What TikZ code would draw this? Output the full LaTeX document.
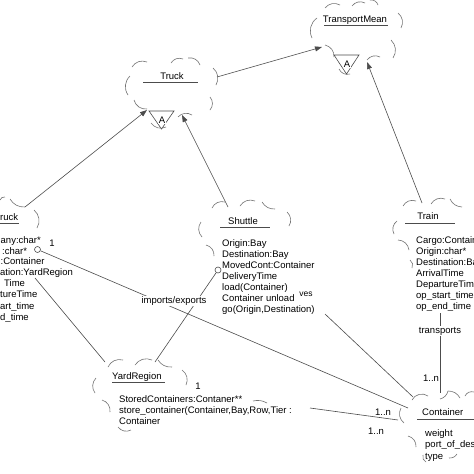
\documentclass[tikz,border=0pt]{standalone}
\usepackage{fontspec}
\setmainfont{Liberation Sans}
\usetikzlibrary{arrows.meta}
\begin{document}
\begin{tikzpicture}[x=1pt,y=-1pt,
  txt/.style={font=\fontsize{9.5}{11}\selectfont, inner sep=0pt, anchor=base west},
  cls/.style={font=\fontsize{9.5}{11}\selectfont, inner sep=0pt, anchor=base},
  lbl/.style={font=\fontsize{9.5}{11}\selectfont, inner sep=1pt, fill=white},
  conn/.style={draw=black!70, line width=0.6pt},
  inh/.style={conn, -{Triangle[length=7pt,width=5pt]}},
  cloudarc/.style={draw=black!55, line width=0.6pt},
  uline/.style={draw=black!70, line width=0.6pt},
  tri/.style={draw=black!70, line width=0.6pt},
  assoc/.style={circle, draw=black!70, line width=0.6pt, fill=white, minimum size=6pt, inner sep=0pt}]
\clip (0,0) rectangle (474,474);
\fill[white] (0,0) rectangle (474,474);

% ---------- TransportMean ----------
\node[cls] (tm) at (355,22.5) {TransportMean};
\draw[uline] (324,25.5) -- (388,25.5);
\draw[tri] (334,55) -- (359,55) -- (346.5,74) -- cycle;
\node[cls, fill=white, inner sep=0.5pt] (tmA) at (347,67.5) {A};
\draw[cloudarc] (312,38) to[bend left=40] (317,18);
\draw[cloudarc] (325,8) to[bend left=40] (340,5);
\draw[cloudarc] (352,6) to[bend left=40] (365,3);
\draw[cloudarc] (370,0) to[bend left=40] (378,5);
\draw[cloudarc] (398,13) to[bend left=40] (401,28);
\draw[cloudarc] (391,40) to[bend left=40] (393,58);
\draw[cloudarc] (380,57) to[bend right=40] (367,60);
\draw[cloudarc] (325,45) to[bend left=40] (334,57);
\draw[cloudarc] (350,74) to[bend left=40] (339,69);

% ---------- Truck (top) ----------
\node[cls] (tr) at (172,79.5) {Truck};
\draw[uline] (143,82) -- (198,82);
\draw[tri] (149,111) -- (174,111) -- (161.5,129) -- cycle;
\node[cls, fill=white, inner sep=0.5pt] (trA) at (162,123.5) {A};
\draw[cloudarc] (128,95) to[bend left=40] (130,76);
\draw[cloudarc] (132,67) to[bend left=40] (147,62);
\draw[cloudarc] (171,63) to[bend left=40] (183,59);
\draw[cloudarc] (188,58) to[bend left=40] (200,65);
\draw[cloudarc] (213,68) to[bend left=40] (216,85);
\draw[cloudarc] (210,97) to[bend left=40] (210,110);
\draw[cloudarc] (192,115) to[bend right=40] (178,117);
\draw[cloudarc] (147,109) to[bend left=40] (134,100);
\draw[cloudarc] (166,127) to[bend left=40] (151,123);

% ---------- Truck (left, cut) ----------
\node[txt] (lt0) at (0,220.5) {ruck};
\draw[uline] (0,223.5) -- (19,223.5);
\node[txt] (lt1) at (0.5,243.5) {any:char*};
\node[txt] (lt2) at (2,254.5) {:char*};
\node[txt] (lt3) at (0.5,264.5) {:Container};
\node[txt] (lt4) at (0,275.5) {ation:YardRegion};
\node[txt] (lt5) at (4,286.5) {Time};
\node[txt] (lt6) at (0,297.5) {tureTime};
\node[txt] (lt7) at (0,309.5) {art\_time};
\node[txt] (lt8) at (0,320.5) {d\_time};
\draw[cloudarc] (0,200) to[bend left=40] (5,197);
\draw[cloudarc] (10,199) to[bend right=30] (25,207);
\draw[cloudarc] (34,210) to[bend left=40] (37,228);

% ---------- Shuttle ----------
\node[cls] (sh) at (243,224.5) {Shuttle};
\draw[uline] (220,227) -- (270,227);
\node[txt] (sh1) at (222,246.5) {Origin:Bay};
\node[txt] (sh2) at (222,257.5) {Destination:Bay};
\node[txt] (sh3) at (222,268.5) {MovedCont:Container};
\node[txt] (sh4) at (222,279.5) {DeliveryTime};
\node[txt] (sh5) at (222,290.5) {load(Container)};
\node[txt] (sh6) at (222,301.5) {Container unload};
\node[txt] (sh7) at (222,312.5) {go(Origin,Destination)};
\draw[cloudarc] (212,208) to[bend left=40] (225,202);
\draw[cloudarc] (240,206) to[bend left=40] (255,201);
\draw[cloudarc] (262,202) to[bend right=30] (275,209);
\draw[cloudarc] (287,212) to[bend left=40] (289,226);
\draw[cloudarc] (202,237) to[bend left=40] (201,222);
\draw[cloudarc] (206,245) to[bend left=40] (214,256);

% ---------- Train ----------
\node[cls] (tn) at (428,219.5) {Train};
\draw[uline] (405,223) -- (455,223);
\node[txt] (tn1) at (416,243.5) {Cargo:Container};
\node[txt] (tn2) at (416,254.5) {Origin:char*};
\node[txt] (tn3) at (416,265.5) {Destination:Bay};
\node[txt] (tn4) at (416,276.5) {ArrivalTime};
\node[txt] (tn5) at (416,287.5) {DepartureTime};
\node[txt] (tn6) at (416,298.5) {op\_start\_time};
\node[txt] (tn7) at (416,309.5) {op\_end\_time};
\draw[cloudarc] (403,206) to[bend left=40] (416,201);
\draw[cloudarc] (431,204) to[bend left=40] (445,199);
\draw[cloudarc] (450,199) to[bend right=30] (462,207);
\draw[cloudarc] (394,234) to[bend left=40] (397,221);
\draw[cloudarc] (398,240) to[bend left=40] (409,250);
\draw[cloudarc] (410,260) to[bend left=40] (412,268);

% ---------- YardRegion ----------
\node[txt] (yr) at (112,379.5) {YardRegion};
\draw[uline] (112,382.5) -- (165,382.5);
\node[txt] (yr1) at (119,402.5) {StoredContainers:Contaner**};
\node[txt] (yr2) at (119,413.5) {store\_container(Container,Bay,Row,Tier :};
\node[txt] (yr3) at (119,424.5) {Container};
\draw[cloudarc] (108,367) to[bend left=40] (123,360);
\draw[cloudarc] (135,365) to[bend left=40] (152,360);
\draw[cloudarc] (158,360) to[bend right=30] (172,367);
\draw[cloudarc] (182,370) to[bend left=40] (186,385);
\draw[cloudarc] (95,393) to[bend left=40] (96,378);
\draw[cloudarc] (102,400) to[bend left=40] (110,412);
\draw[cloudarc] (131,430) to[bend left=40] (118,427);
\draw[cloudarc] (253,401) to[bend left=20] (267,403);

% ---------- Container ----------
\node[txt] (ct) at (422,415.5) {Container};
\draw[uline] (417,419) -- (474,419);
\node[txt] (ct1) at (425,436.5) {weight};
\node[txt] (ct2) at (425,447.5) {port\_of\_destination};
\node[txt] (ct3) at (425,459.5) {type};
\draw[cloudarc] (412,400) to[bend left=50] (428,396);
\draw[cloudarc] (440,399) to[bend right=30] (448,391);
\draw[cloudarc] (448,391) to[bend left=30] (460,398);
\draw[cloudarc] (465,396) to[bend left=40] (474,392);
\draw[cloudarc] (404,423) to[bend left=40] (401,408);
\draw[cloudarc] (408,436) to[bend left=40] (416,447);
\draw[cloudarc] (423,455) to[bend right=40] (426,462);
\draw[cloudarc] (449,458) to[bend right=30] (457,454);

% ---------- connector end points ----------
\coordinate (trR) at (217,77);
\coordinate (tmL) at (322,47);
\coordinate (ltT) at (25,207);
\coordinate (trAL) at (147,110);
\coordinate (shT) at (228,207);
\coordinate (trAR) at (182,115);
\coordinate (tnT) at (422,203);
\coordinate (tmAR) at (367,62);
\coordinate (ctL1) at (408,408);
\coordinate (ctL2) at (398,420);
\coordinate (ctTL) at (413,397);
\coordinate (ctT) at (440,393);
\coordinate (tnB) at (440,313);
\coordinate (ltB) at (35,278);
\coordinate (yrTL) at (105,362);
\coordinate (yrT) at (155,362);
\coordinate (yrR) at (310,408);
\coordinate (shBR) at (325,314);

% ---------- connectors ----------
\draw[inh] (trR) -- (tmL);
\draw[inh] (ltT) -- (trAL);
\draw[inh] (shT) -- (trAR);
\draw[inh] (tnT) -- (tmAR);

\node[assoc] (tc) at (37.5,249.5) {};
\node[assoc] (sc) at (218,270) {};
\draw[conn] (tc) -- (ctL1);
\draw[conn] (sc) -- (yrT);
\draw[conn] (ltB) -- (yrTL);
\draw[conn] (yrR) -- (ctL2);
\draw[conn] (shBR) -- (ctTL);
\draw[conn] (tnB) -- (ctT);

% ---------- labels ----------
\node[lbl] (ie) at (174,301) {imports/exports};
\node[lbl] (trl) at (440,331) {transports};
\node[lbl] (n1) at (431,378) {1..n};
\node[lbl, fill=none] (n2) at (383,412) {1..n};
\node[lbl, fill=none] (n3) at (376,431) {1..n};
\node[lbl, fill=none] (o1) at (52,243) {1};
\node[lbl, fill=none] (o2) at (198,386) {1};
\node[lbl, fill=none, font=\fontsize{8.5}{10}\selectfont] (mv) at (306,294) {ves};
\end{tikzpicture}
\end{document}
